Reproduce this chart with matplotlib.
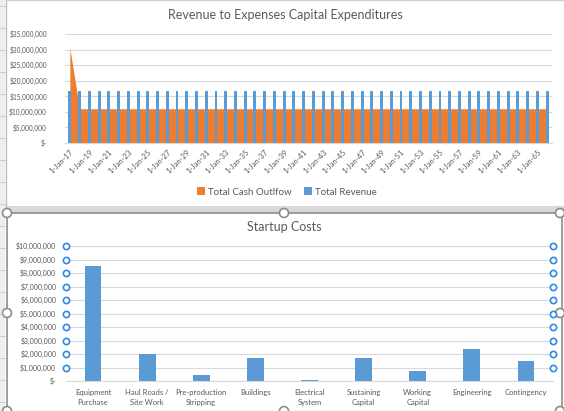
import matplotlib
matplotlib.use("Agg")
import matplotlib.pyplot as plt
from matplotlib.patches import Rectangle, Circle
from matplotlib.ticker import FuncFormatter

plt.rcParams['font.family'] = ['Lato', 'DejaVu Sans']

# --- data: top chart (yearly) ---
years = list(range(17, 67))
dates = ["1-Jan-%d" % y for y in years]
cash_outflow = [30400000] + [11000000] * 49
revenue = [16850000] * 50

# --- data: bottom chart ---
cost_items = ["Equipment\nPurchase", "Haul Roads /\nSite Work", "Pre-production\nStripping",
              "Buildings", "Electrical\nSystem", "Sustaining\nCapital", "Working\nCapital",
              "Engineering", "Contingency"]
cost_values = [8540000, 2000000, 450000, 1710000, 100000, 1710000, 740000, 2380000, 1490000]

BLUE = "#5b9bd5"
ORANGE = "#ed7d31"
GRID = "#d9d9d9"
TXT = "#595959"

W, H = 564, 411
fig = plt.figure(figsize=(W / 100, H / 100), dpi=100)


def box(l, t, r, b):
    return [l / W, 1 - b / H, (r - l) / W, (b - t) / H]


def money(v, pos):
    if v == 0:
        return "$-"
    return "${:,.0f}".format(v)


# background pieces (excel sheet look)
bg = fig.add_axes([0, 0, 1, 1])
bg.set_xlim(0, W)
bg.set_ylim(H, 0)
bg.axis("off")
bg.add_patch(Rectangle((0, 206), W, 7, color="#d9d9d9", lw=0))
bg.add_patch(Rectangle((0, 0), 5, H, color="#eeeeee", lw=0))
for ry in range(6, H, 22):
    bg.plot([0, 5], [ry, ry], color="#c8c8c8", lw=0.6)
bg.plot([6, 6], [0, 206], color="#bfbfbf", lw=1)
bg.plot([6, W], [0.5, 0.5], color="#d0d0d0", lw=1)
bg.add_patch(Rectangle((7, 213), 555, 210, fill=False, ec="#8c8c8c", lw=1.2))
for cx, cy in [(7, 213), (284, 213), (560, 213), (7, 313), (560, 313), (7, 411), (284, 411), (560, 411)]:
    bg.add_patch(Circle((cx, cy), 4.5, fc="white", ec="#8c8c8c", lw=1.2))

# --- top chart ---
ax1 = fig.add_axes(box(65, 34, 552, 143))
x = list(range(len(dates)))
ax1.fill_between(x, cash_outflow, color=ORANGE, lw=0, label="Total Cash Outlfow", zorder=2)
ax1.bar(x, revenue, width=0.3, color=BLUE, label="Total Revenue", zorder=3)
ax1.set_xlim(-0.5, len(dates) - 0.5)
ax1.set_ylim(0, 35000000)
ax1.set_yticks(range(0, 35000001, 5000000))
ax1.yaxis.set_major_formatter(FuncFormatter(money))
ax1.set_xticks(x[::2])
ax1.set_xticklabels(dates[::2], rotation=45, ha="right", rotation_mode="anchor")
ax1.grid(axis="y", color=GRID, lw=0.8, zorder=0)
for s in ["top", "right", "left"]:
    ax1.spines[s].set_visible(False)
ax1.spines["bottom"].set_color(GRID)
ax1.tick_params(axis="x", length=0, colors=TXT, labelsize=5.5, pad=4)
ax1.tick_params(axis="y", length=0, colors=TXT, labelsize=4.7, pad=13)
fig.text(285 / W, 1 - 15 / H, "Revenue to Expenses Capital Expenditures", ha="center", va="center",
         fontsize=9, color=TXT)
fig.legend(*ax1.get_legend_handles_labels(), loc="center", bbox_to_anchor=(287 / W, 1 - 192 / H),
           ncol=2, frameon=False, fontsize=7, labelcolor=TXT, handlelength=0.8, handleheight=0.8,
           columnspacing=1.2, handletextpad=0.4)

# --- bottom chart ---
ax2 = fig.add_axes(box(66, 246, 553, 381))
xc = list(range(len(cost_items)))
ax2.bar(xc, cost_values, width=0.31, color=BLUE, zorder=3)
ax2.set_xlim(-0.5, len(cost_items) - 0.5)
ax2.set_ylim(0, 10000000)
ax2.set_yticks(range(0, 10000001, 1000000))
ax2.yaxis.set_major_formatter(FuncFormatter(money))
ax2.set_xticks(xc)
ax2.set_xticklabels(cost_items, linespacing=1.5)
ax2.grid(axis="y", color=GRID, lw=0.8, zorder=0)
for s in ["top", "right", "left"]:
    ax2.spines[s].set_visible(False)
ax2.spines["bottom"].set_color(GRID)
ax2.tick_params(axis="x", length=0, colors=TXT, labelsize=5.5, pad=6)
ax2.tick_params(axis="y", length=0, colors=TXT, labelsize=5, pad=7)
# selection handles on the gridlines
hy = list(range(1000000, 10000001, 1000000))
ax2.plot([-0.5] * len(hy), hy, "o", ms=4.5, mfc="white", mec="#2e8ae6", mew=1.2, clip_on=False, zorder=5)
ax2.plot([len(cost_items) - 0.5] * len(hy), hy, "o", ms=4.5, mfc="white", mec="#2e8ae6", mew=1.2,
         clip_on=False, zorder=5)
fig.text(284 / W, 1 - 227 / H, "Startup Costs", ha="center", va="center", fontsize=9, color=TXT)

fig.savefig("out.png", dpi=100)
